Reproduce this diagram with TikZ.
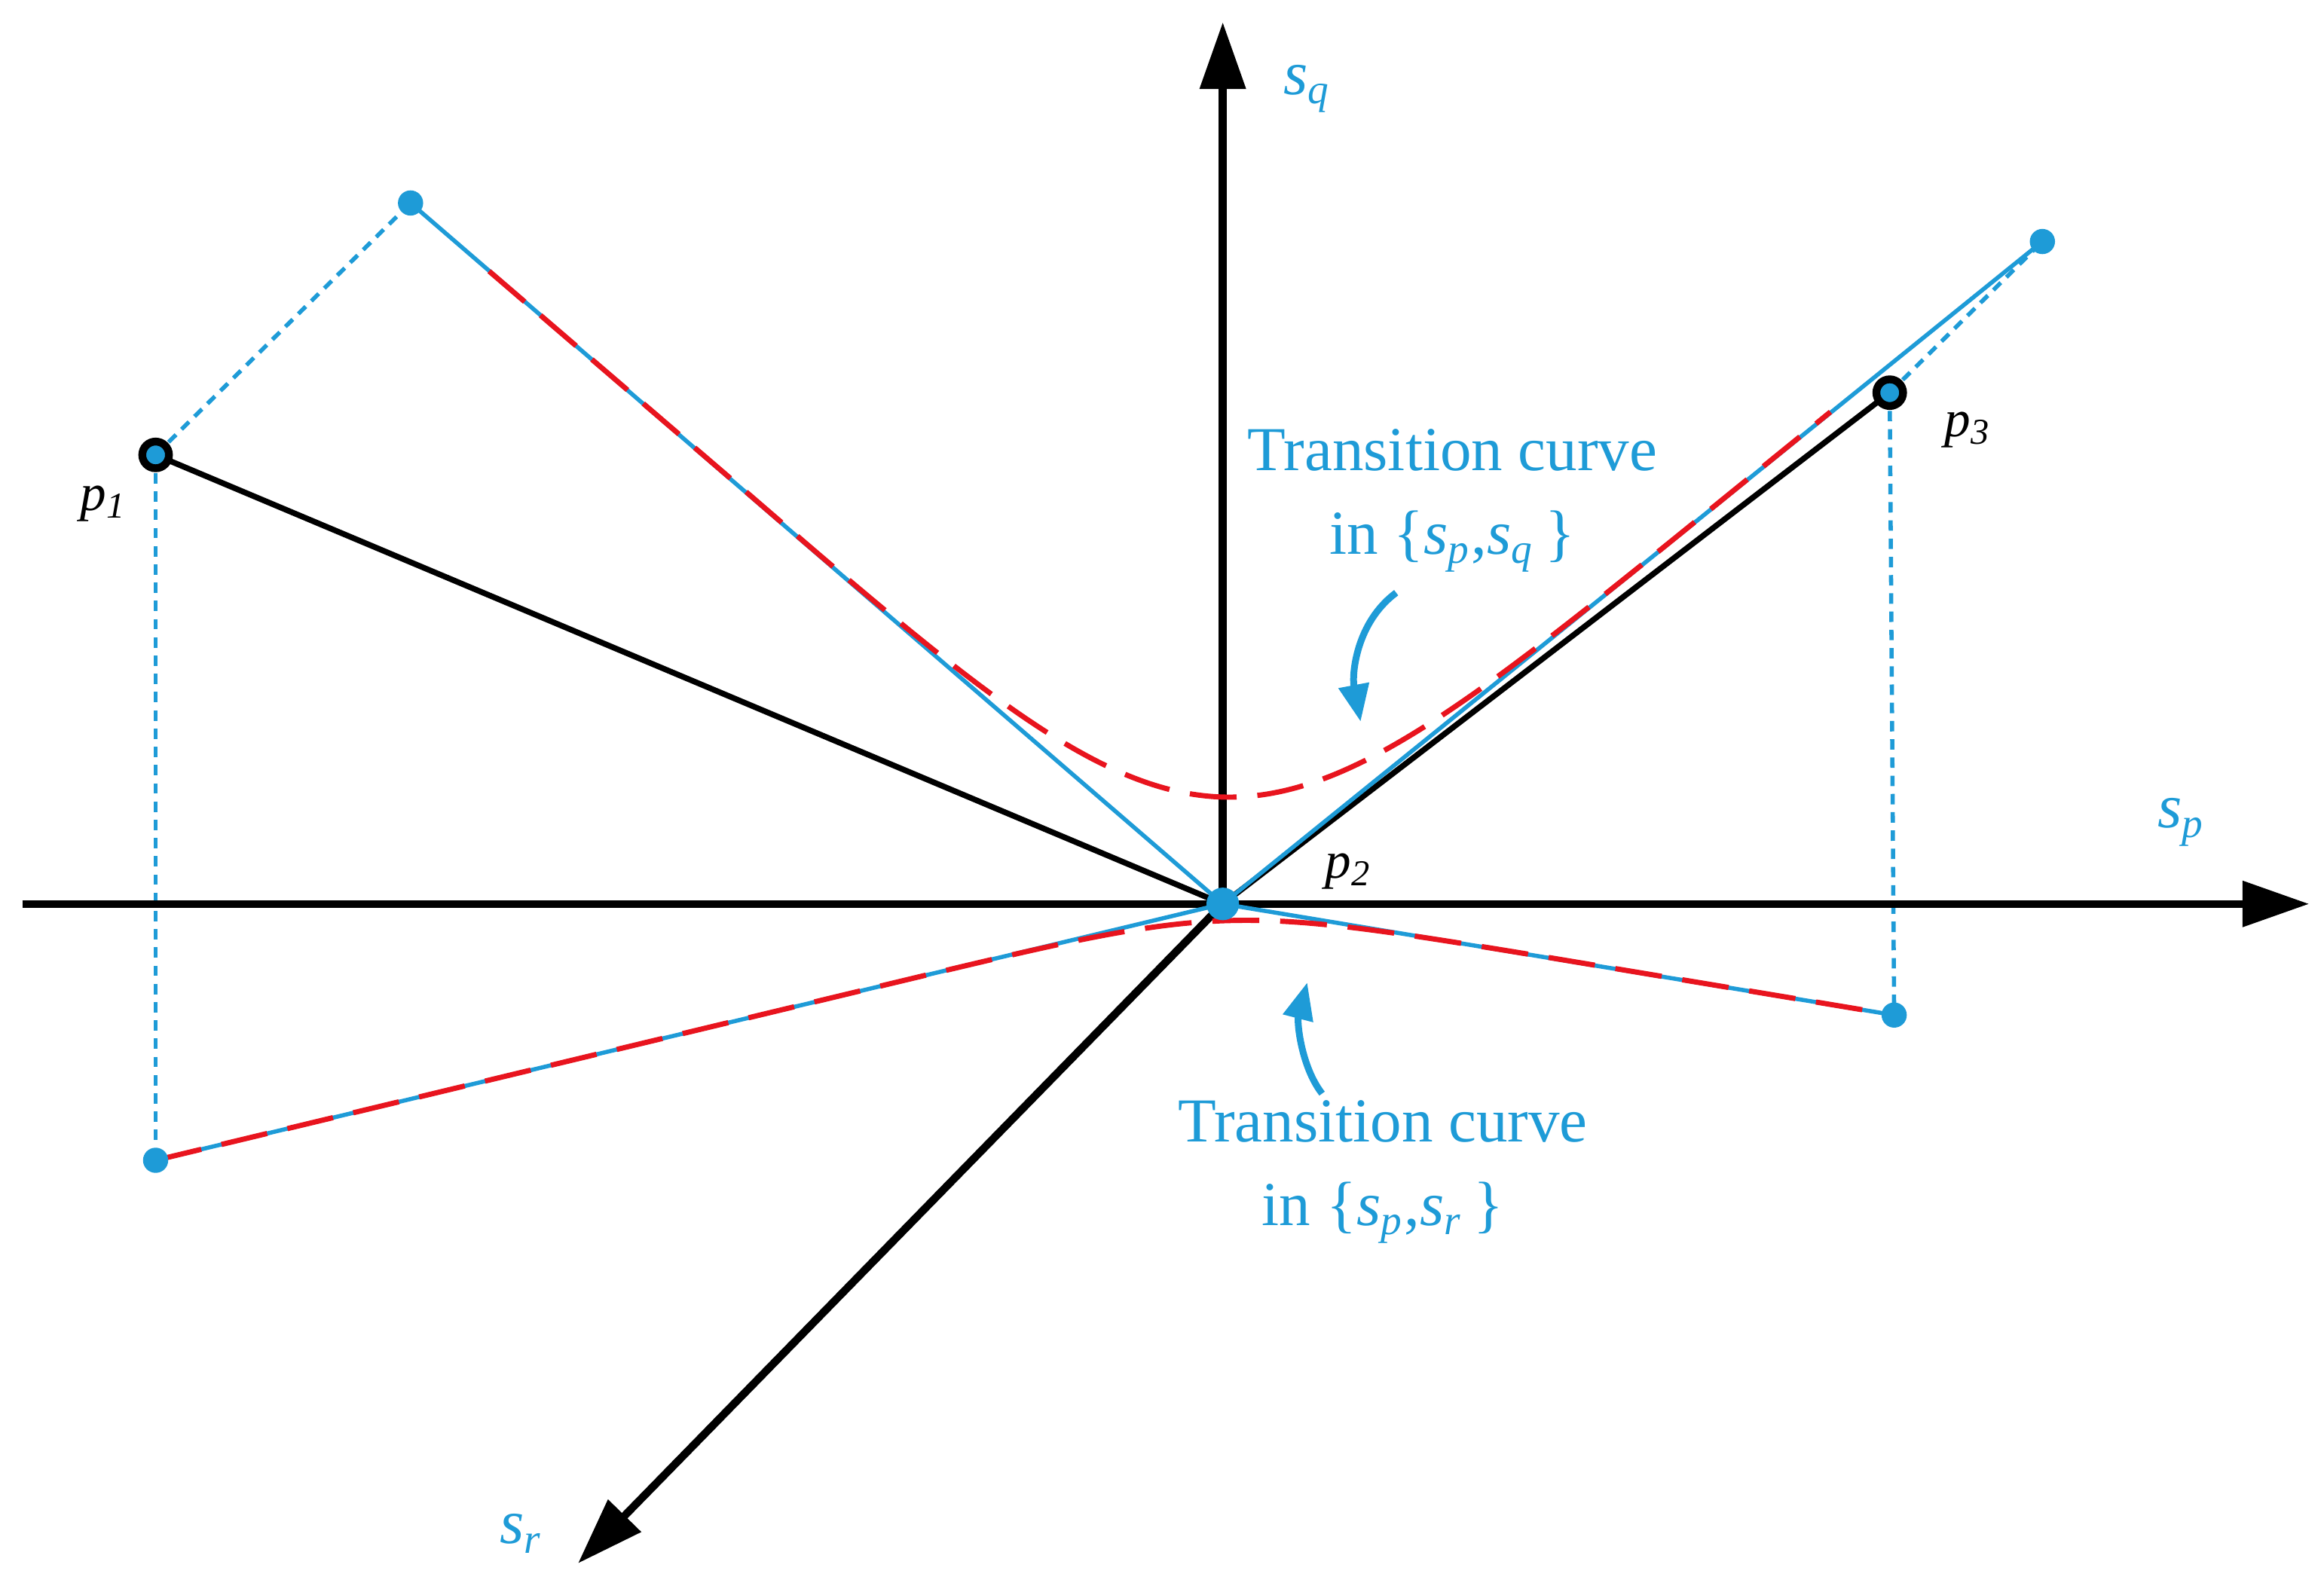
\documentclass[tikz,border=0pt]{standalone}
\usepackage{fontspec}
\setmainfont{Liberation Serif}
\usetikzlibrary{arrows.meta}
\definecolor{bl}{HTML}{1E9BD7}
\definecolor{rd}{HTML}{E8141E}
\begin{document}
\begin{tikzpicture}[x=0.01cm,y=-0.01cm,
  axis/.style={line width=1.5pt,-{Triangle[length=0.45cm,width=0.3cm]}},
  blk/.style={line width=1.1pt},
  bline/.style={bl,line width=0.8pt},
  bdot/.style={bl,line width=0.8pt,dash pattern=on 2pt off 1.5pt},
  rdash/.style={rd,line width=1pt,dash pattern=on 9pt off 4pt},
  bpt/.style={circle,fill=bl,inner sep=0pt,minimum size=0.17cm},
  kpt/.style={circle,draw=black,fill=bl,line width=1.5pt,inner sep=0pt,minimum size=0.18cm},
  lbl/.style={bl,font=\fontsize{12}{14}\selectfont\itshape},
  plbl/.style={font=\fontsize{10}{12}\selectfont\itshape},
  ttl/.style={bl,font=\fontsize{12}{14}\selectfont,align=center}]
\useasboundingbox (0,0) rectangle (1568,1074);
\coordinate (O) at (825,610);
\coordinate (xs) at (15,610);
\coordinate (xe) at (1558,610);
\coordinate (ye) at (825,15);
\coordinate (ze) at (390,1055);
\coordinate (p1) at (105,307);
\coordinate (p3) at (1275,265);
\coordinate (q1) at (277,137);
\coordinate (q3) at (1378,163);
\coordinate (r1) at (105,783);
\coordinate (r3) at (1278,685);
\draw[bdot] (p1) -- (q1);
\draw[bdot] (p1) -- (r1);
\draw[bdot] (p3) -- (q3);
\draw[bdot] (p3) -- (r3);
\draw[axis] (xs) -- (xe);
\draw[axis] (O) -- (ye);
\draw[axis] (O) -- (ze);
\draw[blk] (p1) -- (O) -- (p3);
\draw[bline] (q1) -- (O) -- (q3);
\draw[bline] (r1) -- (O) -- (r3);
\draw[rdash] (330,183) -- (500,329) .. controls (818,604) and (832,605) .. (1150,347) -- (1235,278);
\draw[rdash] (r1) -- (600,664) .. controls (O) .. (1050,647) -- (r3);
\node[bpt] (n1) at (q1) {};
\node[bpt] (n3) at (q3) {};
\node[bpt] (m1) at (r1) {};
\node[bpt] (m3) at (r3) {};
\node[kpt] (k1) at (p1) {};
\node[kpt] (k3) at (p3) {};
\node[circle,fill=bl,inner sep=0pt,minimum size=0.22cm] (k2) at (O) {};
\node[lbl] (lq) at (882,60) {s\textsubscript{q}};
\node[lbl] (lp) at (1472,555) {s\textsubscript{p}};
\node[lbl] (lr) at (352,1035) {s\textsubscript{r}};
\node[plbl] (l1) at (70,340) {p\textsubscript{1}};
\node[plbl] (l2) at (910,588) {p\textsubscript{2}};
\node[plbl] (l3) at (1328,290) {p\textsubscript{3}};
\node[ttl] (t1) at (980,338) {Transition curve\\[2pt]in \{\textit{s\textsubscript{p}},\textit{s\textsubscript{q}}\,\}};
\node[ttl] (t2) at (933,791) {Transition curve\\[2pt]in \{\textit{s\textsubscript{p}},\textit{s\textsubscript{r}}\,\}};
\coordinate (a1s) at (942,400);
\coordinate (a1e) at (918,487);
\coordinate (a2s) at (892,738);
\coordinate (a2e) at (882,663);
\draw[bl,line width=1.3pt,-{Triangle[length=0.25cm,width=0.2cm]}] (a1s) .. controls (915,420) and (912,455) .. (a1e);
\draw[bl,line width=1.3pt,-{Triangle[length=0.25cm,width=0.2cm]}] (a2s) .. controls (878,720) and (875,690) .. (a2e);
\end{tikzpicture}
\end{document}
